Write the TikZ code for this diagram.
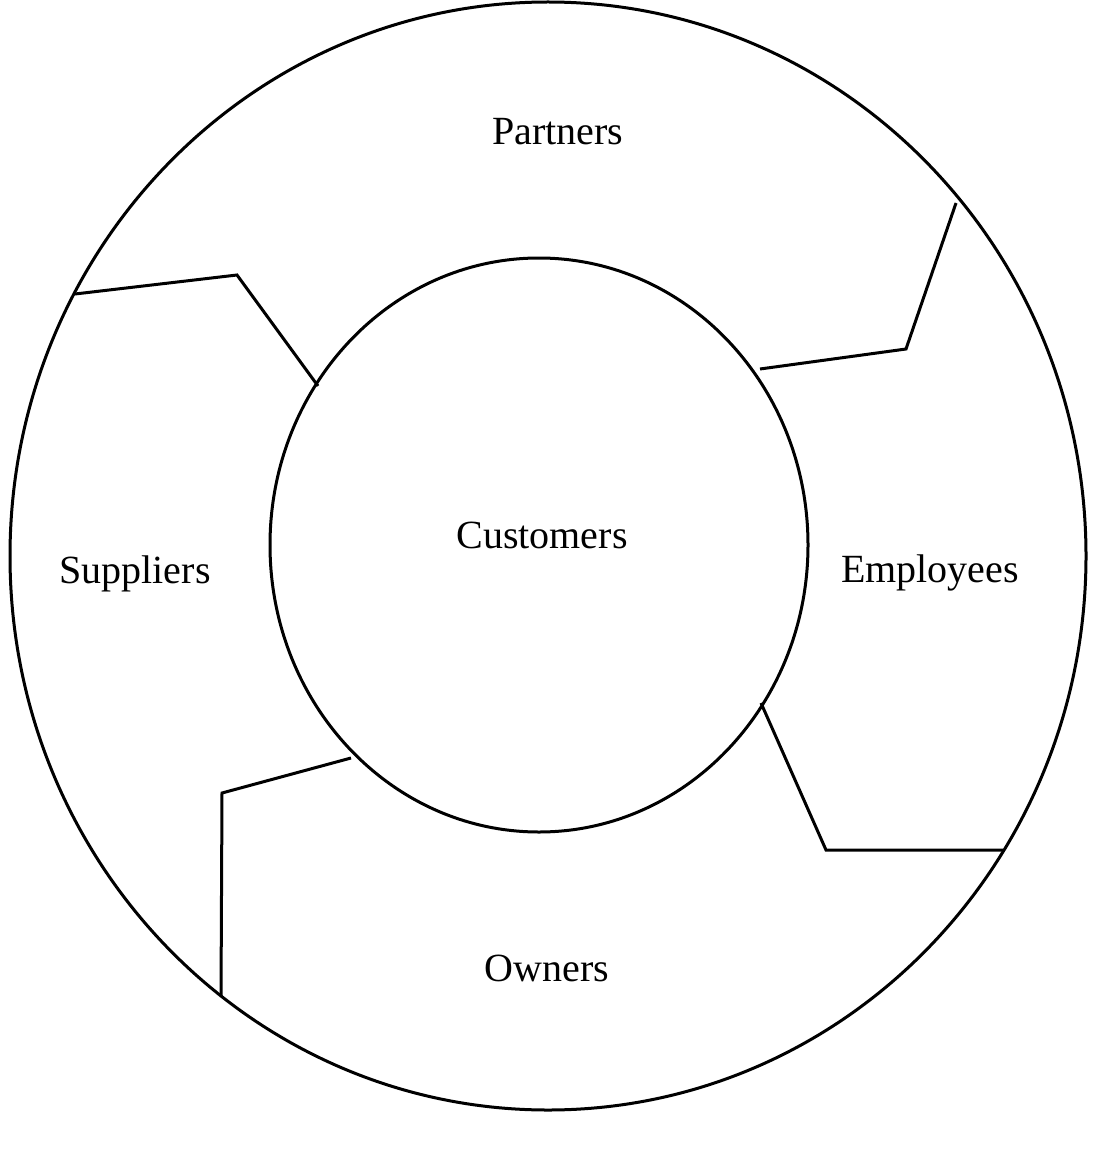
\documentclass[tikz,border=0pt]{standalone}
\usepackage{fontspec}
\setmainfont{Liberation Serif}
\begin{document}
\begin{tikzpicture}[x=1pt,y=-1pt,line width=3pt,
  lbl/.style={font=\fontsize{40}{48}\selectfont,inner sep=0pt}]
\useasboundingbox (0,0) rectangle (1095,1174);
\draw (548,556) ellipse [x radius=538, y radius=554];
\draw (539,545) ellipse [x radius=269, y radius=287];
\draw (75,294) -- (237,275) -- (318,386);
\draw (760,369) -- (906,349) -- (956,203);
\draw (761,703) -- (826,850) -- (1003,850);
\draw (351,758) -- (222,793) -- (221,997);
\node[lbl] (p) at (558,132) {Partners};
\node[lbl] (c) at (542,535) {Customers};
\node[lbl] (s) at (135,574) {Suppliers};
\node[lbl] (e) at (930,573) {Employees};
\node[lbl] (o) at (547,968) {Owners};
\end{tikzpicture}
\end{document}
